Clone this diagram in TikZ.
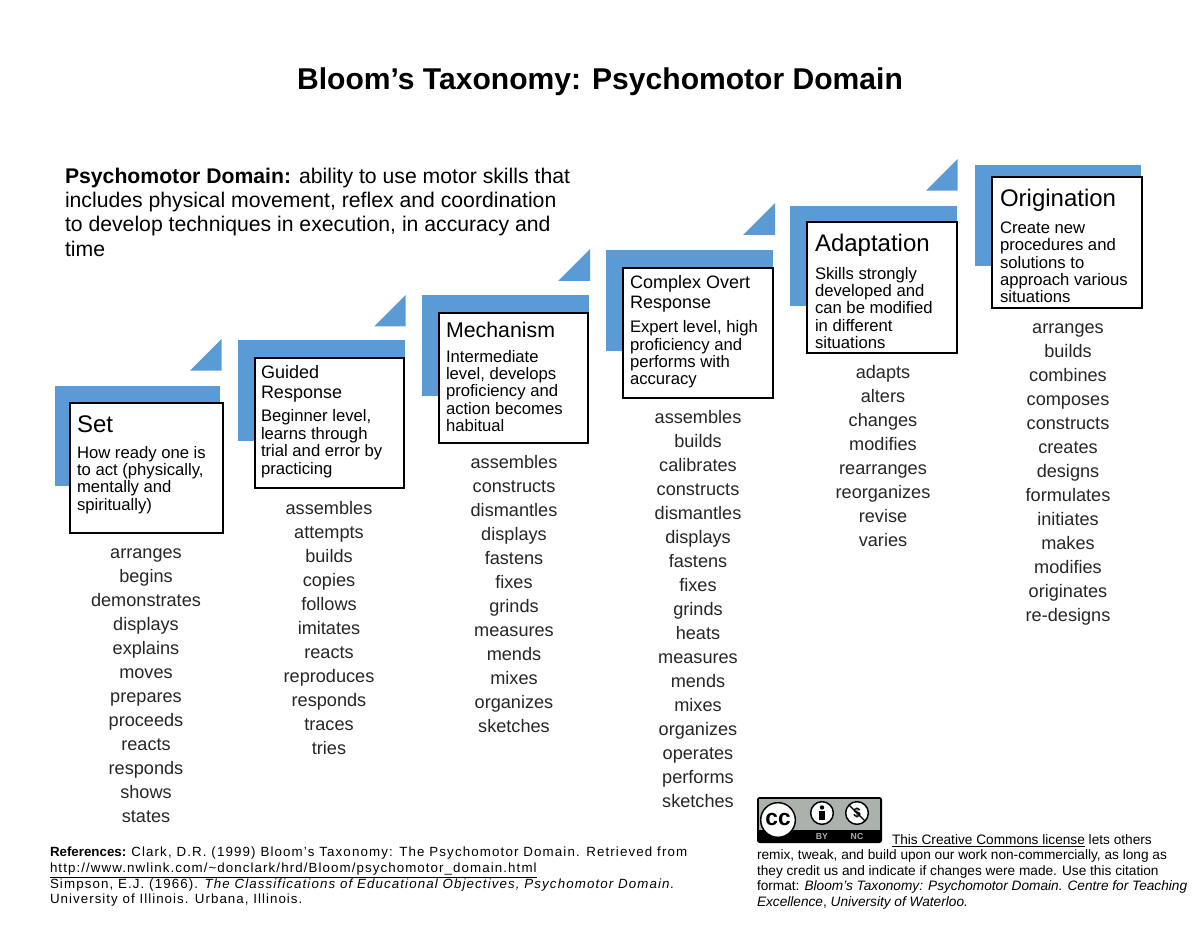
\documentclass[tikz,border=0pt]{standalone}
\usepackage{fontspec}
\setmainfont{Liberation Sans}
\definecolor{stepblue}{RGB}{91,155,213}
\definecolor{ccgrey}{RGB}{170,178,171}
\def\fl{\rule{0pt}{1em}}
\def\ls#1{\addfontfeature{LetterSpace=#1}}
\tikzset{
  x=0.75pt,y=-0.75pt,
  every node/.style={inner sep=0pt,outer sep=0pt},
  corner/.style={fill=stepblue},
  stepframe/.style={draw=black,line width=1.5pt,fill=white},
  heading/.style={anchor=north west,align=left,font=\fontsize{18}{18}\selectfont},
  headingmid/.style={anchor=north west,align=left,font=\fontsize{16}{16}\selectfont},
  headingsmall/.style={anchor=north west,align=left,font=\fontsize{13.5}{14.3}\selectfont},
  body/.style={anchor=north west,align=left,font=\fontsize{12.5}{13.05}\selectfont},
  verbs/.style={anchor=north,align=center,font=\fontsize{13.6}{18.0}\selectfont,text=black!85},
  smallprint/.style={anchor=north west,align=left,font=\fontsize{10}{11.9}\selectfont},
  ccicon/.style={draw=black,line width=1.1pt,fill=white,circle}
}
\begin{document}
\begin{tikzpicture}
\useasboundingbox (0,0) rectangle (1200,927);
\fill[white] (0,0) rectangle (1200,927);

\node[anchor=base] (title) at (600,89.5) {\fontsize{22.55}{22.55}\selectfont\bfseries Bloom’s Taxonomy: Psychomotor Domain};
\node[anchor=north west,align=left,font=\fontsize{15.9}{18.3}\selectfont] (domain) at (65,162)
 {\fl\textbf{Psychomotor Domain:} ability to use motor skills that\\includes physical movement, reflex and coordination\\to develop techniques in execution, in accuracy and\\time};

% triangles
\fill[corner] (221.7,339) -- (190,370.7) -- (221.7,370.7) -- cycle;
\fill[corner] (405.5,295) -- (374,326.5) -- (405.5,326.5) -- cycle;
\fill[corner] (590,249) -- (558,281) -- (590,281) -- cycle;
\fill[corner] (775,203) -- (743,235) -- (775,235) -- cycle;
\fill[corner] (957.7,159) -- (926,190.7) -- (957.7,190.7) -- cycle;

% blue corners
\fill[corner] (54.7,386) rectangle (220,486);
\fill[corner] (237.7,340) rectangle (404.7,441);
\fill[corner] (422,295) rectangle (589,396);
\fill[corner] (606,250) rectangle (773,351);
\fill[corner] (790,206) rectangle (956.7,306);
\fill[corner] (975,164.7) rectangle (1141,266);

% boxes
\draw[stepframe] (69.5,403) rectangle (223,533);
\draw[stepframe] (255,357.7) rectangle (403.7,488);
\draw[stepframe] (439,313) rectangle (588,443);
\draw[stepframe] (623,268) rectangle (773,398);
\draw[stepframe] (806.7,222) rectangle (957,353);
\draw[stepframe] (992,177) rectangle (1141.5,307.7);

% box text
\node[heading] (h1) at (77,408) {\fl Set};
\node[body] (b1) at (77,441.5) {\fl How ready one is\\to act (physically,\\mentally and\\spiritually)};
\node[headingsmall] (h2) at (261,361) {\fl Guided\\Response};
\node[body] (b2) at (261,405.3) {\fl Beginner level,\\learns through\\trial and error by\\practicing};
\node[headingmid] (h3) at (446,316.5) {\fl Mechanism};
\node[body] (b3) at (446,345.5) {\fl Intermediate\\level, develops\\proficiency and\\action becomes\\habitual};
\node[headingsmall] (h4) at (630,271) {\fl Complex Overt\\Response};
\node[body] (b4) at (630,316) {\fl Expert level, high\\proficiency and\\performs with\\accuracy};
\node[heading] (h5) at (815,228) {\fl Adaptation};
\node[body] (b5) at (815,262.5) {\fl Skills strongly\\developed and\\can be modified\\in different\\situations};
\node[heading] (h6) at (1000,183) {\fl Origination};
\node[body] (b6) at (1000,216.7) {\fl Create new\\procedures and\\solutions to\\approach various\\situations};

% verbs
\node[verbs] (v1) at (146,540.6) {\fl arranges\\begins\\demonstrates\\displays\\explains\\moves\\prepares\\proceeds\\reacts\\responds\\shows\\states};
\node[verbs] (v2) at (329,496.6) {\fl assembles\\attempts\\builds\\copies\\follows\\imitates\\reacts\\reproduces\\responds\\traces\\tries};
\node[verbs] (v3) at (514,450.6) {\fl assembles\\constructs\\dismantles\\displays\\fastens\\fixes\\grinds\\measures\\mends\\mixes\\organizes\\sketches};
\node[verbs] (v4) at (698,405.6) {\fl assembles\\builds\\calibrates\\constructs\\dismantles\\displays\\fastens\\fixes\\grinds\\heats\\measures\\mends\\mixes\\organizes\\operates\\performs\\sketches};
\node[verbs] (v5) at (883,360.6) {\fl adapts\\alters\\changes\\modifies\\rearranges\\reorganizes\\revise\\varies};
\node[verbs] (v6) at (1068,315.6) {\fl arranges\\builds\\combines\\composes\\constructs\\creates\\designs\\formulates\\initiates\\makes\\modifies\\originates\\re-designs};

% references
\node[smallprint] (refs) at (50,843) {\fl\textbf{References:} {\ls{8.5}Clark, D.R. (1999) Bloom's Taxonomy: The Psychomotor Domain. Retrieved from}\\{\ls{8.1}\underline{http://www.nwlink.com/\textasciitilde donclark/hrd/Bloom/psychomotor\_domain.html}}\\{\ls{8.3}Simpson, E.J. (1966). \textit{The Classifications of Educational Objectives, Psychomotor Domain.}}\\{\ls{7.8}University of Illinois. Urbana, Illinois.}};

% licence
\fill[black,rounded corners=2pt] (757,797) rectangle (882,843);
\fill[ccgrey] (759,799) rectangle (880,830);
\node[ccicon,minimum size=26pt] (cclogo) at (778,820) {\fontsize{17}{17}\selectfont\bfseries cc};
\node[ccicon,minimum size=17pt] (byicon) at (822,813) {};
\fill[black] (822,807.5) circle (2.2);
\fill[black] (819,811) rectangle (825,819.5);
\node[ccicon,minimum size=17pt] (ncicon) at (857,813) {\fontsize{10}{10}\selectfont\bfseries \$};
\draw[line width=1pt] (ncicon.north west) -- (ncicon.south east);
\node[text=ccgrey,font=\fontsize{6.5}{6.5}\selectfont\bfseries] (bytext) at (822,836.5) {BY};
\node[text=ccgrey,font=\fontsize{6.5}{6.5}\selectfont\bfseries] (nctext) at (857,836.5) {NC};
\node[anchor=base west,font=\fontsize{10.25}{11.6}\selectfont] (lic1) at (892,844) {\underline{This Creative Commons license} lets others};
\node[anchor=north west,align=left,font=\fontsize{10.25}{11.6}\selectfont] (lic2) at (757,846) {\fl remix, tweak, and build upon our work non-commercially, as long as\\they credit us and indicate if changes were made. Use this citation\\format: \textit{Bloom's Taxonomy: Psychomotor Domain. Centre for Teaching}\\\textit{Excellence}, \textit{University of Waterloo.}};
\end{tikzpicture}
\end{document}
